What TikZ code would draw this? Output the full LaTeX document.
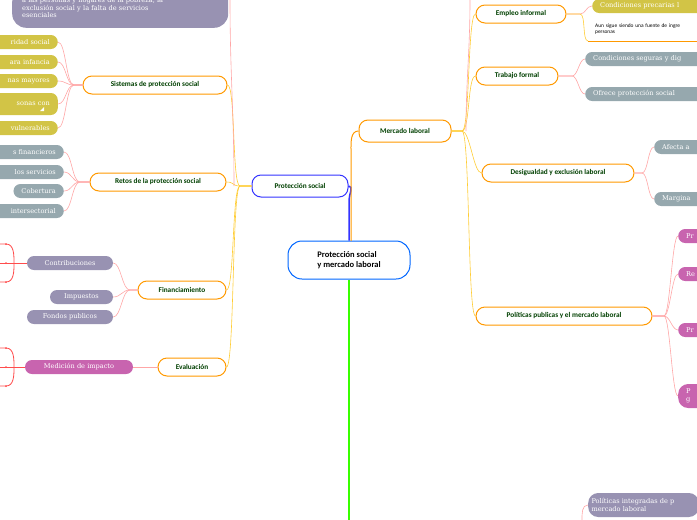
\documentclass[tikz,border=0pt]{standalone}
\usepackage{fontspec}
\setmainfont{Carlito}
\newfontfamily\leaffont{DejaVu Serif}
\begin{document}
\begin{tikzpicture}[x=1pt,y=-1pt,
  lvone/.style={draw=#1,line width=1pt,rounded corners=9pt,fill=white,font=\bfseries\fontsize{7.3}{8}\selectfont,text=green!25!black,minimum height=18pt,inner xsep=8pt},
  lvone/.default={orange!80!yellow},
  leaf/.style={fill=#1,draw=none,rounded corners=7pt,font=\leaffont\fontsize{6.6}{7.8}\selectfont,text=white,minimum height=14pt,inner xsep=8pt,inner ysep=2pt},
  oc/.style={draw=orange!50!yellow!80,line width=0.6pt},
  pc/.style={draw=red!35,line width=0.6pt},
  rc/.style={draw=red!70,line width=0.8pt},
  cv/.style={to path={.. controls ([xshift=#1]\tikztostart) and ([xshift=-#1]\tikztotarget) .. (\tikztotarget)}},
  cv/.default=10pt]
\useasboundingbox (0,0) rectangle (697,520);
\definecolor{ylw}{RGB}{210,196,70}
\definecolor{gbl}{RGB}{150,168,174}
\definecolor{pgr}{RGB}{152,146,178}
\definecolor{pnk}{RGB}{200,100,175}
\coordinate (topA) at (230,0);
\coordinate (topB) at (470,0);
\coordinate (botG) at (349,520);
% root
\node[draw=blue!60!cyan,line width=1pt,rounded corners=14pt,fill=white,font=\bfseries\fontsize{8.5}{10}\selectfont,align=left,minimum width=122pt,minimum height=38pt] (root) at (349,260) {Protección social\\y mercado laboral};
\node[lvone=blue!80,minimum height=22pt,minimum width=96pt] (ps) at (300,186) {Protección social};
\node[lvone,minimum height=22pt,minimum width=92pt] (ml) at (405,131) {Mercado laboral};
\draw[blue!80,line width=1.5pt] (root.north) -- (349,200) to[out=90,in=0] (ps.east);
\draw[orange!80!yellow,line width=1pt] (351,241) -- (351,150) to[out=90,in=180] (ml.west);
\draw[green!70!lime,line width=1.5pt] (root.south) -- (botG);
% left level
\node[lvone,minimum width=144pt] (sis) at (155,85) {Sistemas de protección social};
\node[lvone,minimum width=136pt] (ret) at (158,182) {Retos de la protección social};
\node[lvone,minimum width=88pt] (fin) at (182,290) {Financiamiento};
\node[lvone,minimum width=68pt] (eva) at (192,367) {Evaluación};
\foreach \n in {sis,ret,fin,eva} \draw[oc] (ps.west) -- (240,186) to[cv=-8pt] (\n.east);
\draw[pc] (234,186) to[out=90,in=-90] (topA);
% top blob
\node[fill=pgr,rounded corners=14pt,minimum width=216pt,minimum height=40pt,anchor=south west,text width=196pt,font=\leaffont\fontsize{6.6}{7.5}\selectfont,text=white,align=left,inner ysep=3pt] (blob) at (12,28) {a las personas y hogares de la pobreza, la\\exclusión social y la falta de servicios\\esenciales};
% yellow leaves
\foreach \t/\y [count=\i] in {ridad social/42,ara infancia/62,nas mayores/81,vulnerables/128}
  \node[leaf=ylw,anchor=east,text width=80pt,align=right] (y\i) at (58,\y) {\t};
\node[leaf=ylw,anchor=east,text width=80pt,align=right,minimum height=22pt] (y5) at (58,104) {sonas con\\[5pt]};
\fill[white] (44,111) -- (44,107) -- (40,111) -- cycle;
\foreach \i in {1,...,5} \draw[pc] (sis.west) -- (74,85) to[cv=-8pt] (y\i.east);
% gray-blue leaves
\foreach \t/\y [count=\i] in {s financieros/152,los servicios/172,intersectorial/211}
  \node[leaf=gbl,anchor=east,text width=80pt,align=right] (g\i) at (64,\y) {\t};
\node[leaf=gbl,anchor=east] (g4) at (64,191) {Cobertura};
\foreach \i in {1,...,4} \draw[pc] (ret.west) -- (80,182) to[cv=-8pt] (g\i.east);
% financiamiento
\node[leaf=pgr,minimum width=86pt] (c1) at (70,263) {Contribuciones};
\node[leaf=pgr,minimum width=63pt] (c2) at (81.5,297) {Impuestos};
\node[leaf=pgr,minimum width=86pt] (c3) at (70,317) {Fondos publicos};
\foreach \i in {1,2,3} \draw[pc] (fin.west) -- (130,290) to[cv=-8pt] (c\i.east);
\node[leaf=pnk,minimum width=108pt] (mi) at (79,367) {Medición de impacto};
\draw[pc] (mi.east) -- (eva.west);
% red brackets
\foreach \nd/\yc in {c1/263,mi/367}{
  \draw[rc] (\nd.west) -- (0,\yc);
  \draw[rc] (0,\yc-19) -- (6,\yc-19) to[out=0,in=90] (14,\yc) to[out=-90,in=0] (6,\yc+19) -- (0,\yc+19);
  \foreach \d in {-19,0,19} \fill[red!70] (6,\yc+\d) circle (1pt);
}
% right level
\node[lvone,minimum width=90pt] (ei) at (521,14) {Empleo informal};
\node[lvone,minimum width=82pt] (tf) at (517,76) {Trabajo formal};
\node[lvone,minimum width=152pt] (de) at (558,173) {Desigualdad y exclusión laboral};
\node[lvone,minimum width=176pt] (pp) at (564,316) {Políticas publicas y el mercado laboral};
\foreach \n in {ei,tf,de,pp} \draw[oc] (ml.east) -- (462,131) to[cv=8pt] (\n.west);
\draw[pc] (466,131) to[out=90,in=-90] (topB);
% empleo informal children
\node[leaf=ylw,anchor=west,text width=110pt,align=left] (e1) at (592,6) {Condiciones precarias l};
\node[anchor=west,font=\fontsize{5.4}{6.2}\selectfont,align=left,inner sep=1pt,text width=110pt] (e2) at (594,29) {Aun sigue siendo una fuente de ingre\\personas};
\draw[orange!80!yellow,line width=1pt] (588,41) -- (697,41);
\draw[pc] (ei.east) -- (580,14) to[cv=6pt] (e1.west);
\draw[oc] (ei.east) -- (580,14) to[cv=6pt] (588,41);
% trabajo formal
\node[leaf=gbl,anchor=west,text width=110pt,align=left] (t1) at (585,59) {Condiciones seguras y dig};
\node[leaf=gbl,anchor=west,text width=110pt,align=left] (t2) at (585,94) {Ofrece protección social};
\foreach \i in {1,2} \draw[pc] (tf.east) -- (572,76) to[cv=6pt] (t\i.west);
% desigualdad
\node[leaf=gbl,anchor=west,text width=50pt,align=left] (d1) at (654,147) {Afecta a};
\node[leaf=gbl,anchor=west,text width=50pt,align=left] (d2) at (654,199) {Margina};
\foreach \i in {1,2} \draw[pc] (de.east) -- (642,173) to[cv=6pt] (d\i.west);
% politicas
\foreach \t/\y [count=\i] in {Pr/236,Re/274,Pr/330}
  \node[leaf=pnk,anchor=west,text width=24pt,align=left] (q\i) at (678,\y) {\t};
\node[leaf=pnk,anchor=west,text width=24pt,align=left,minimum height=24pt,rounded corners=10pt] (q4) at (678,396) {P\\g};
\foreach \i in {1,...,4} \draw[pc] (pp.east) -- (664,316) to[cv=6pt] (q\i.west);
% bottom
\node[fill=pgr,rounded corners=10pt,anchor=west,minimum height=24pt,text width=104pt,font=\leaffont\fontsize{6.6}{7.5}\selectfont,text=white,align=left] (bi) at (588,505) {Políticas integradas de p\\mercado laboral};
\coordinate (bb) at (582,520);
\draw[pc] (bb) to[out=90,in=180] (bi.west);
\end{tikzpicture}
\end{document}
